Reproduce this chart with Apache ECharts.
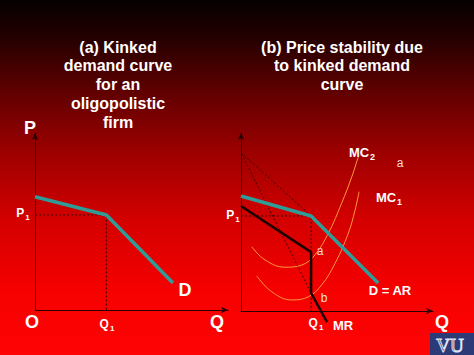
<!DOCTYPE html>
<html><head><meta charset="utf-8">
<script src="https://cdn.jsdelivr.net/npm/echarts@6/dist/echarts.min.js"></script>
<style>html,body{margin:0;padding:0;overflow:hidden;background:#000}#c{width:474px;height:355px}</style>
</head><body><div id="c"></div>
<script>
// Panel (a): kinked demand curve (Q, P)
const demandA = [[0, 6.4], [3.7, 5.37], [7.15, 1.53]];
const guideA = [[0, 5.37], [3.7, 5.37], [3.7, 0]];
// Panel (b): price stability
const demandB = [[0, 6.46], [3.65, 5.34], [7.14, 1.57]];
const guideB = [[0, 5.34], [3.65, 5.34], [3.65, 0]];
const rivalLines = [[3.65, 5.34], [0, 8.9], [3.65, 1.01]];
const mrB = [[0, 5.9], [3.65, 3.31], [3.65, 1.01], [4.48, -0.62]];
const mc2 = [[0.56, 3.61], [1.25, 2.87], [2.29, 2.46], [3.16, 2.58], [3.85, 3.15], [4.55, 4.37], [5.24, 6.05], [5.77, 7.54], [6.11, 8.67]];
const mc1 = [[0.82, 1.97], [1.6, 1.08], [2.64, 0.62], [3.51, 0.8], [4.2, 1.46], [4.9, 2.68], [5.59, 4.37], [5.94, 5.67], [6.15, 6.7]];
const titleA = ['(a) Kinked', 'demand curve', 'for an', 'oligopolistic', 'firm'];
const titleB = ['(b) Price stability due', 'to kinked demand', 'curve'];

const chart = echarts.init(document.getElementById('c'), null, {renderer: 'svg'});
const F = '"Liberation Sans", Arial, sans-serif';
const axisLine = {show: true, onZero: false, symbol: ['none', 'arrow'], symbolSize: [5, 7], lineStyle: {color: '#2a0000', width: 1}};
function ax(type, gi) {
  return {type: 'value', gridIndex: gi, min: 0, max: 10, axisLine: axisLine,
    axisTick: {show: false}, axisLabel: {show: false}, splitLine: {show: false}};
}
const teal = {color: '#2f9c98', width: 3.5};
const guide = {color: '#3a0000', width: 1, type: [2, 2]};
function line(data, gi, ls, extra) {
  return Object.assign({type: 'line', xAxisIndex: gi, yAxisIndex: gi, data: data, symbol: 'none',
    lineStyle: ls, clip: false, silent: true, animation: false}, extra || {});
}
function txt(x, y, text, size, opts) {
  opts = opts || {};
  return {type: 'text', x: x, y: y, silent: true, style: Object.assign({text: text, fill: '#fff',
    font: (opts.weight || 'bold') + ' ' + size + 'px ' + F, textAlign: opts.align || 'center',
    textVerticalAlign: 'middle'}, opts.style || {})};
}
function sub(x, y, main, s, size, align) {
  return {type: 'text', x: x, y: y, silent: true, style: {text: '{m|' + main + '}{s|' + s + '}',
    textAlign: align || 'center', textVerticalAlign: 'middle',
    rich: {m: {fill: '#fff', font: 'bold ' + size + 'px ' + F},
           s: {fill: '#fff', font: 'bold ' + Math.round(size * 0.7) + 'px ' + F, padding: [size * 0.8, 0, 0, 1]}}}};
}
const graphics = [];
titleA.forEach((t, i) => graphics.push(txt(118, 47 + i * 18.8, t, 16)));
titleB.forEach((t, i) => graphics.push(txt(342, 47 + i * 18.8, t, 16)));
graphics.push(
  txt(30, 128, 'P', 18), txt(32, 322, 'O', 18), txt(217, 322, 'Q', 18), txt(185, 290, 'D', 18),
  txt(442, 322, 'Q', 18),
  sub(23, 213, 'P', '1', 12), sub(107, 324, 'Q', '1', 12),
  sub(233, 215, 'P', '1', 12), sub(316, 323, 'Q', '1', 12),
  txt(343, 325, 'MR', 13), txt(390, 290, 'D = AR', 13),
  sub(362, 152, 'MC', '2', 13), sub(389, 197, 'MC', '1', 13),
  txt(400, 163, 'a', 12, {weight: 'normal', style: {fill: '#ffdcdc'}}),
  txt(320, 251, 'a', 12, {weight: 'normal', style: {fill: '#ffdcdc'}}),
  txt(324, 298, 'b', 12, {weight: 'normal', style: {fill: '#ffdcdc'}}),
  {type: 'rect', shape: {x: 430, y: 333, width: 44, height: 22}, style: {fill: '#2c3a78'}, silent: true},
  txt(450, 345, 'VU', 19, {weight: 'normal', style: {fill: 'none', stroke: '#dfe4f5', lineWidth: 1, font: 'normal 19px "Liberation Serif", serif'}})
);

chart.setOption({
  animation: false,
  backgroundColor: {type: 'linear', x: 0, y: 0, x2: 0, y2: 1, colorStops: [
    {offset: 0, color: '#060000'}, {offset: 0.1, color: '#220000'}, {offset: 0.28, color: '#680000'},
    {offset: 0.42, color: '#9a0000'}, {offset: 0.62, color: '#d40000'}, {offset: 0.82, color: '#f60000'},
    {offset: 1, color: '#ff0404'}]},
  grid: [
    {left: 35, top: 133, width: 193, height: 177},
    {left: 241, top: 133, width: 192, height: 178}
  ],
  xAxis: [ax('x', 0), ax('x', 1)],
  yAxis: [ax('y', 0), ax('y', 1)],
  series: [
    line(guideA, 0, guide),
    line(demandA, 0, teal),
    line(guideB, 1, guide),
    line(rivalLines, 1, guide),
    line(mc2, 1, {color: '#ff9a3a', width: 1}, {smooth: 0.4}),
    line(mc1, 1, {color: '#ff9a3a', width: 1}, {smooth: 0.4}),
    line(mrB, 1, {color: '#1a0000', width: 2.5}),
    line(demandB, 1, teal)
  ],
  graphic: graphics
});
</script></body></html>
